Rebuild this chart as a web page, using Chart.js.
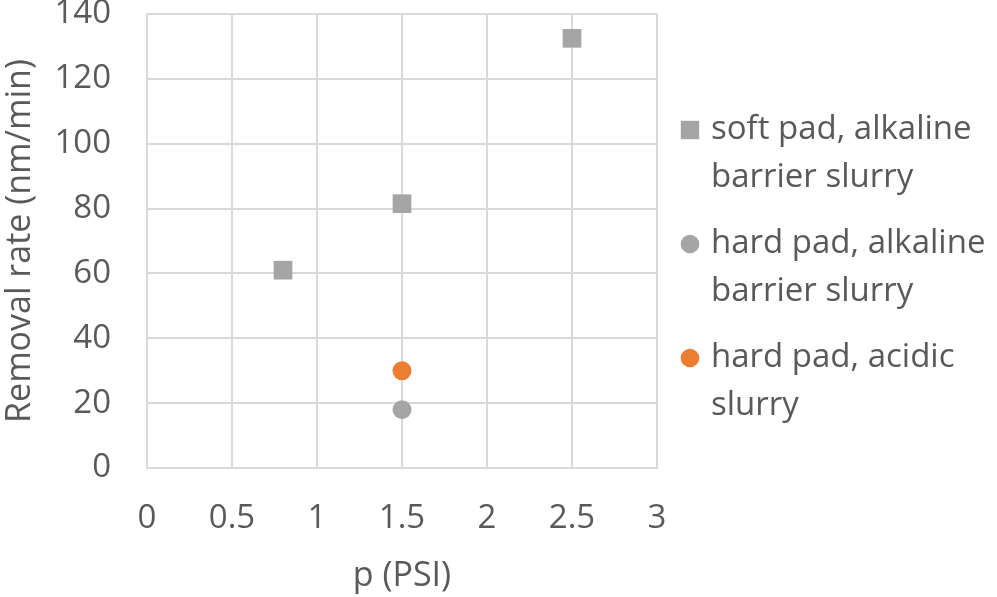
<!DOCTYPE html>
<html>
<head>
<meta charset="utf-8">
<script src="https://cdn.jsdelivr.net/npm/chart.js@4.4.1/dist/chart.umd.min.js"></script>
<style>
  html, body { margin: 0; padding: 0; background: #ffffff; }
  #wrap { position: relative; width: 997px; height: 597px; }
</style>
</head>
<body>
<div id="wrap"><canvas id="c" width="997" height="597"></canvas></div>
<script>
// ---- data ----
const softPadX = [0.8, 1.5, 2.5];
const softPadY = [61, 81.5, 132.5];
const hardAlkX = [1.5];
const hardAlkY = [18];
const hardAcidX = [1.5];
const hardAcidY = [30];
const seriesLabels = [
  ["soft pad, alkaline", "barrier slurry"],
  ["hard pad, alkaline", "barrier slurry"],
  ["hard pad, acidic", "slurry"]
];
const xTickValues = [0, 0.5, 1, 1.5, 2, 2.5, 3];
const yTickValues = [0, 20, 40, 60, 80, 100, 120, 140];
const xTitle = "p (PSI)";
const yTitle = "Removal rate (nm/min)";

const GRAY = "#A5A5A5";
const ORANGE = "#ED7D31";
const TEXT = "#595959";
const GRID = "#D9D9D9";
const FONT = "'Open Sans', 'DejaVu Sans', sans-serif";

function pts(xs, ys) { return xs.map((x, i) => ({ x: x, y: ys[i] })); }

const legendPlugin = {
  id: 'customLegend',
  afterDraw(chart) {
    const ctx = chart.ctx;
    const markerX = 690, textX = 711, startY = 130, lineH = 48, entryH = 114;
    ctx.save();
    chart.data.datasets.forEach((ds, i) => {
      const y0 = startY + i * entryH;
      const opts = {
        pointStyle: ds.pointStyle,
        radius: ds.pointStyle === 'rect' ? 13 : 9.3,
        rotation: 0,
        borderWidth: 0
      };
      ctx.fillStyle = ds.backgroundColor;
      ctx.strokeStyle = ds.backgroundColor;
      Chart.helpers.drawPoint(ctx, opts, markerX, y0);
      ctx.fillStyle = TEXT;
      ctx.font = "33px " + FONT;
      ctx.textBaseline = 'middle';
      ctx.textAlign = 'left';
      ds.labelLines.forEach((ln, j) => ctx.fillText(ln, textX, y0 + j * lineH));
    });
    ctx.restore();
  }
};

new Chart(document.getElementById('c'), {
  type: 'scatter',
  data: {
    datasets: [
      { label: seriesLabels[0].join(' '), labelLines: seriesLabels[0], data: pts(softPadX, softPadY),
        pointStyle: 'rect', pointRadius: 13.2, backgroundColor: GRAY, borderWidth: 0 },
      { label: seriesLabels[1].join(' '), labelLines: seriesLabels[1], data: pts(hardAlkX, hardAlkY),
        pointStyle: 'circle', pointRadius: 9.5, backgroundColor: GRAY, borderWidth: 0 },
      { label: seriesLabels[2].join(' '), labelLines: seriesLabels[2], data: pts(hardAcidX, hardAcidY),
        pointStyle: 'circle', pointRadius: 9.5, backgroundColor: ORANGE, borderWidth: 0 }
    ]
  },
  options: {
    responsive: false,
    animation: false,
    events: [],
    layout: { padding: { left: 0, right: 340, top: 14, bottom: 0 } },
    plugins: { legend: { display: false }, tooltip: { enabled: false } },
    scales: {
      x: {
        type: 'linear', min: 0, max: 3,
        afterBuildTicks(s) { s.ticks = xTickValues.map(v => ({ value: v })); },
        afterFit(s) { s.height = 129; s.paddingLeft = 0; s.paddingRight = 0; },
        grid: { color: GRID, lineWidth: 2, drawTicks: false },
        border: { color: GRID, width: 2 },
        ticks: { color: TEXT, font: { family: FONT, size: 33 }, padding: 31, maxRotation: 0,
                 callback: (v) => String(v) },
        title: { display: true, text: xTitle, color: TEXT, font: { family: FONT, size: 34 }, padding: { top: 0, bottom: 0 } }
      },
      y: {
        type: 'linear', min: 0, max: 140,
        afterBuildTicks(s) { s.ticks = yTickValues.map(v => ({ value: v })); },
        afterFit(s) { s.width = 147; s.paddingTop = 0; s.paddingBottom = 0; },
        grid: { color: GRID, lineWidth: 2, drawTicks: false },
        border: { color: GRID, width: 2 },
        ticks: { color: TEXT, font: { family: FONT, size: 33 }, padding: 36,
                 callback: (v) => String(v) },
        title: { display: true, text: yTitle, color: TEXT, font: { family: FONT, size: 34 }, padding: { top: 0, bottom: 0 } }
      }
    }
  },
  plugins: [legendPlugin]
});
</script>
</body>
</html>
